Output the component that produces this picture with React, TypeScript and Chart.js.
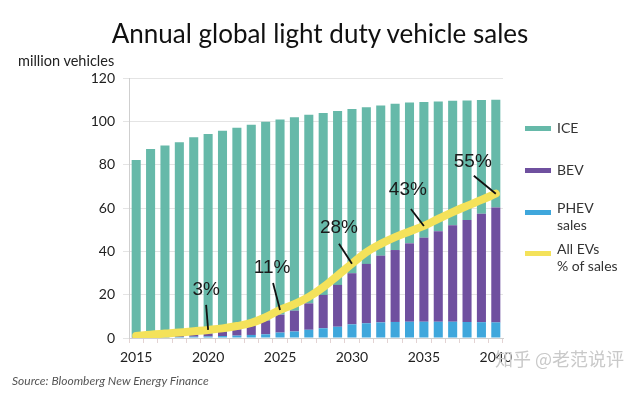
import React, { useEffect, useRef } from "react";
import { Chart, registerables } from "chart.js";

Chart.register(...registerables);

const years = [
  "2015", "2016", "2017", "2018", "2019", "2020", "2021", "2022", "2023", "2024",
  "2025", "2026", "2027", "2028", "2029", "2030", "2031", "2032", "2033", "2034",
  "2035", "2036", "2037", "2038", "2039", "2040",
];

// million vehicles
const iceSales = [
  81.7, 86.5, 87.8, 89.1, 91.1, 92.2, 92.8, 93.0, 92.7, 91.8,
  90.0, 89.3, 87.0, 84.0, 80.3, 75.8, 72.3, 69.3, 67.5, 65.0,
  62.6, 59.9, 57.5, 55.1, 52.5, 49.8,
];
const bevSales = [
  0.3, 0.4, 0.6, 0.8, 1.0, 1.3, 1.9, 2.9, 4.3, 6.3,
  8.3, 9.6, 12.2, 15.4, 19.3, 23.6, 27.4, 30.8, 33.2, 36.2,
  38.8, 41.8, 44.5, 47.1, 50.0, 53.0,
];
const phevSales = [
  0.2, 0.3, 0.4, 0.5, 0.6, 0.7, 0.9, 1.1, 1.4, 1.7,
  2.5, 3.0, 3.8, 4.5, 5.2, 6.3, 6.8, 7.2, 7.4, 7.5,
  7.5, 7.5, 7.5, 7.4, 7.3, 7.2,
];
// All EVs, % of sales
const evSharePct = [
  0.8, 1.3, 1.7, 2.1, 2.6, 3.1, 3.7, 4.6, 5.8, 8.0,
  10.8, 13.0, 15.8, 19.5, 24.0, 28.6, 33.0, 36.2, 38.8, 41.0,
  43.1, 45.8, 48.4, 50.8, 53.1, 55.5,
];

const yTickValues = [0, 20, 40, 60, 80, 100, 120];
const xLabelYears = ["2015", "2020", "2025", "2030", "2035", "2040"];

const annotYears = ["2020", "2025", "2030", "2035", "2040"];
const annotLabels = ["3%", "11%", "28%", "43%", "55%"];

const COLORS = {
  ice: "#66b9a9",
  bev: "#6f509f",
  phev: "#3fa7dc",
  ev: "#f4e25a",
};

// label offsets relative to the line point: [textDx, textDy, pointerDx, pointerDy]
const annotOffsets = [
  [-2, -40, -2, -25],
  [-8, -42, -7, -27],
  [-13, -36, -13, -20],
  [-16, -36, -13, -17],
  [-23, -32, -22, -18],
];

const annotPlugin = {
  id: "annotPlugin",
  afterDatasetsDraw(chart: any) {
    const meta = chart.getDatasetMeta(3);
    const ctx = chart.ctx;
    ctx.save();
    annotYears.forEach((yr, i) => {
      const idx = years.indexOf(yr);
      const el = meta.data[idx];
      if (!el) return;
      const [tdx, tdy, pdx, pdy] = annotOffsets[i];
      ctx.strokeStyle = "#111";
      ctx.lineWidth = 1.8;
      ctx.beginPath();
      ctx.moveTo(el.x + pdx, el.y + pdy);
      ctx.lineTo(el.x, el.y);
      ctx.stroke();
      ctx.fillStyle = "#1a1a1a";
      ctx.font = "19px 'Liberation Sans', Arial, sans-serif";
      ctx.textAlign = "center";
      ctx.textBaseline = "middle";
      ctx.fillText(annotLabels[i], el.x + tdx, el.y + tdy);
    });
    ctx.restore();
  },
};

const legendItems = [
  { color: COLORS.ice, lines: ["ICE"], top: 128 },
  { color: COLORS.bev, lines: ["BEV"], top: 170 },
  { color: COLORS.phev, lines: ["PHEV", "sales"], top: 212 },
  { color: COLORS.ev, lines: ["All EVs", "% of sales"], top: 253 },
];

export default function App() {
  const canvasRef = useRef<HTMLCanvasElement | null>(null);

  useEffect(() => {
    if (!canvasRef.current) return;
    const chart = new Chart(canvasRef.current, {
      type: "bar",
      data: {
        labels: years,
        datasets: [
          {
            type: "bar",
            label: "PHEV sales",
            data: phevSales,
            backgroundColor: COLORS.phev,
            stack: "s",
            order: 1,
            barPercentage: 0.63,
            categoryPercentage: 1,
          },
          {
            type: "bar",
            label: "BEV",
            data: bevSales,
            backgroundColor: COLORS.bev,
            stack: "s",
            order: 1,
            barPercentage: 0.63,
            categoryPercentage: 1,
          },
          {
            type: "bar",
            label: "ICE",
            data: iceSales,
            backgroundColor: COLORS.ice,
            stack: "s",
            order: 1,
            barPercentage: 0.63,
            categoryPercentage: 1,
          },
          {
            type: "line",
            label: "All EVs % of sales",
            data: evSharePct,
            borderColor: COLORS.ev,
            borderWidth: 8,
            borderCapStyle: "round",
            tension: 0.4,
            pointRadius: 0,
            yAxisID: "y2",
            order: 0,
          } as any,
        ],
      },
      options: {
        responsive: false,
        animation: false,
        layout: { padding: { left: 0, right: 137, top: 78, bottom: 0 } },
        plugins: {
          legend: { display: false },
          title: { display: false },
          tooltip: { enabled: false },
        },
        scales: {
          x: {
            stacked: true,
            offset: true,
            grid: {
              drawOnChartArea: false,
              drawTicks: true,
              tickLength: 5,
              color: "#e3d3d3",
              offset: true,
            },
            border: { display: true, color: "#cfcfcf" },
            ticks: {
              autoSkip: false,
              maxRotation: 0,
              padding: 6,
              color: "#1e1e1e",
              font: { family: "Lato", size: 14 },
              callback: (_v: any, i: number) =>
                xLabelYears.includes(years[i]) ? years[i] : "",
            },
            afterFit: (scale: any) => {
              scale.height = 57;
            },
          },
          y: {
            stacked: true,
            min: 0,
            max: 120,
            afterBuildTicks: (scale: any) => {
              scale.ticks = yTickValues.map((v) => ({ value: v }));
            },
            grid: { color: "#e4e4e4", tickLength: 6, drawTicks: true },
            border: { display: true, color: "#cfcfcf" },
            ticks: {
              padding: 8,
              color: "#1e1e1e",
              font: { family: "Lato", size: 14 },
            },
            afterFit: (scale: any) => {
              scale.width = 129;
            },
          },
          y2: {
            display: false,
            min: 0,
            max: 100,
          },
        },
      },
      plugins: [annotPlugin],
    });
    return () => chart.destroy();
  }, []);

  return (
    <div
      style={{
        position: "fixed",
        left: 0,
        top: 0,
        width: 640,
        height: 395,
        background: "#fff",
        overflow: "hidden",
        fontFamily: "Lato, sans-serif",
      }}
    >
      <canvas
        ref={canvasRef}
        width={640}
        height={395}
        style={{ position: "absolute", left: 0, top: 0, width: 640, height: 395 }}
      />
      <div
        style={{
          position: "absolute",
          left: 0,
          top: 16,
          width: 640,
          textAlign: "center",
          fontSize: 26,
          lineHeight: "34px",
          color: "#111",
          whiteSpace: "nowrap",
        }}
      >
        Annual global light duty vehicle sales
      </div>
      <div
        style={{
          position: "absolute",
          left: 18,
          top: 52,
          fontSize: 14.5,
          lineHeight: "18px",
          color: "#222",
          whiteSpace: "nowrap",
        }}
      >
        million vehicles
      </div>
      {legendItems.map((it, i) => (
        <div key={i}>
          <div
            style={{
              position: "absolute",
              left: 525,
              top: it.top - 2.5,
              width: 26,
              height: 5,
              background: it.color,
            }}
          />
          {it.lines.map((ln, j) => (
            <div
              key={j}
              style={{
                position: "absolute",
                left: 557,
                top: it.top - 9 + j * 17 - (it.lines.length > 1 ? 4 : 0),
                fontSize: 14,
                lineHeight: "18px",
                color: "#333",
                whiteSpace: "nowrap",
              }}
            >
              {ln}
            </div>
          ))}
        </div>
      ))}
      <div
        style={{
          position: "absolute",
          left: 12,
          top: 373,
          fontSize: 12,
          lineHeight: "16px",
          fontStyle: "italic",
          color: "#555",
          whiteSpace: "nowrap",
        }}
      >
        Source: Bloomberg New Energy Finance
      </div>
      <div
        style={{
          position: "absolute",
          left: 495,
          top: 347,
          fontSize: 18,
          lineHeight: "22px",
          fontFamily: "'Noto Sans CJK SC', sans-serif",
          color: "#c9c9c9",
          whiteSpace: "nowrap",
        }}
      >
        知乎 @老范说评
      </div>
    </div>
  );
}
